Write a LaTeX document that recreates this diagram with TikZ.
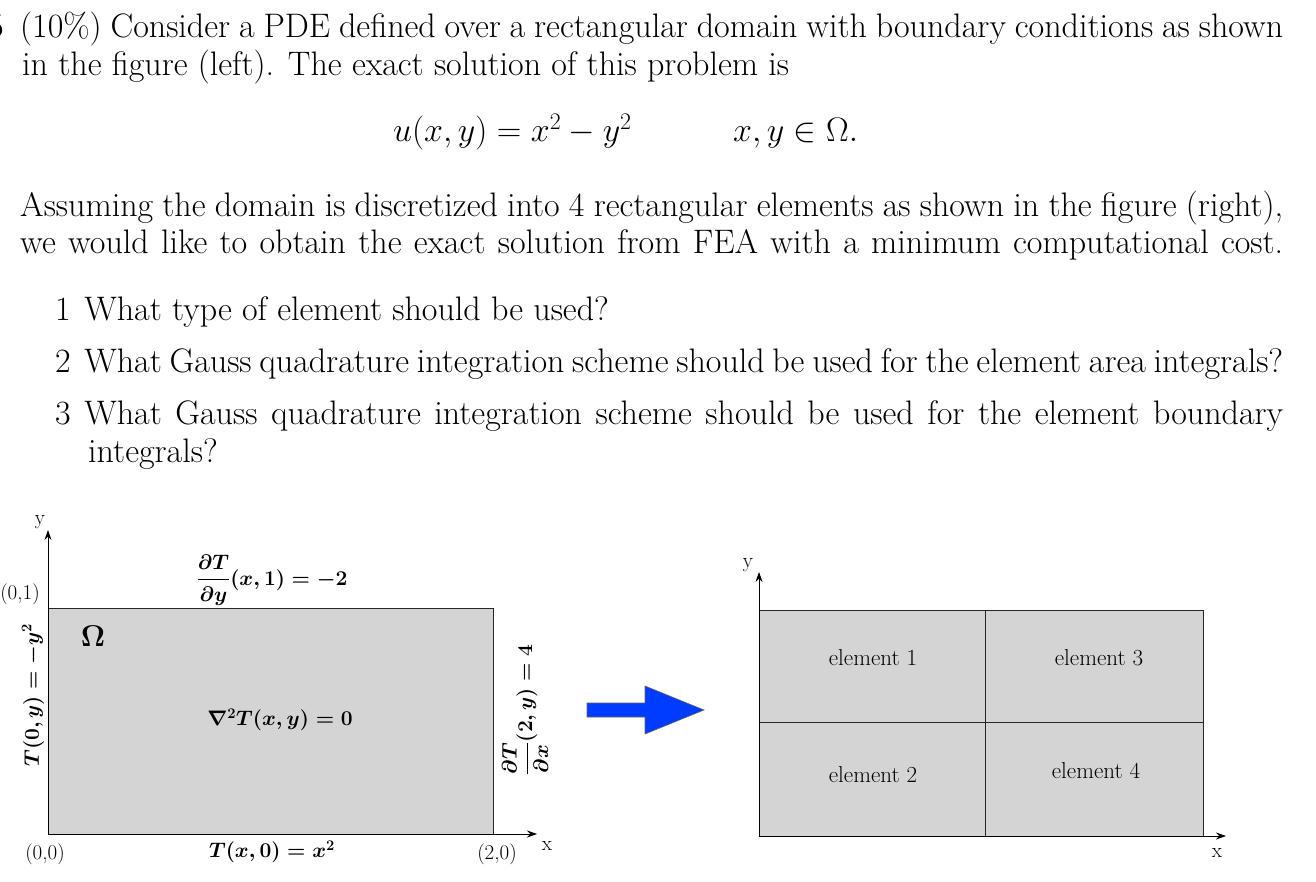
\RequirePackage{fix-cm}
\documentclass[tikz,border=0pt]{standalone}
\usepackage{amsmath,amssymb}
\usetikzlibrary{arrows.meta}
\begin{document}
\begin{tikzpicture}[x=1pt,y=-1pt,
  txt/.style={anchor=base west,inner sep=0pt,font=\fontsize{34}{40}\selectfont},
  sm/.style={inner sep=0pt,font=\fontsize{21}{24}\selectfont},
  bm/.style={inner sep=0pt,font=\fontsize{21}{25}\selectfont\boldmath},
  el/.style={inner sep=0pt,font=\fontsize{23}{26}\selectfont},
  ax/.style={-{Stealth[length=10pt,width=7pt]},line width=0.7pt},
  dom/.style={fill=black!17,draw=black!85,line width=0.8pt}]
\useasboundingbox (0,0) rectangle (1316,882);
\node[txt] (l0) at (-12,38) {5};
\node[txt] (l1) at (20,38) {\makebox[1263pt][s]{(10\%) Consider a PDE defined over a rectangular domain with boundary conditions as shown}};
\node[txt] (l2) at (22,76) {in the figure (left). The exact solution of this problem is};
\node[txt] (eq1) at (393,142) {$u(x,y)=x^2-y^2$};
\node[txt] (eq2) at (733,142) {$x,y\in\Omega.$};
\node[txt] (p1) at (20,217) {\makebox[1263pt][s]{Assuming the domain is discretized into 4 rectangular elements as shown in the figure (right),}};
\node[txt] (p2) at (20,254) {\makebox[1263pt][s]{we would like to obtain the exact solution from FEA with a minimum computational cost.}};
\node[txt] (q1) at (55,320) {1\hspace{0.4em}What type of element should be used?};
\node[txt] (q2) at (55,372) {\makebox[1228pt][s]{2\hspace{0.4em}What Gauss quadrature integration scheme should be used for the element area integrals?}};
\node[txt] (q3) at (55,424) {\makebox[1228pt][s]{3\hspace{0.4em}What Gauss quadrature integration scheme should be used for the element boundary}};
\node[txt] (q3b) at (88,462) {integrals?};
% left figure
\draw[dom] (48,608) rectangle (493,834);
\coordinate (o1) at (48,834);
\coordinate (ytip1) at (48,530);
\coordinate (xtip1) at (537,834);
\draw[ax] (o1) -- (ytip1);
\draw[ax] (o1) -- (xtip1);
\node[sm] (y1) at (40,522) {y};
\node[sm] (x1) at (547,846) {x};
\node[sm] (c01) at (20,594) {(0,1)};
\node[sm] (c00) at (45,854) {(0,0)};
\node[sm] (c20) at (497,854) {(2,0)};
\node[inner sep=0pt,font=\fontsize{30}{34}\selectfont\bfseries] (om) at (93,636) {$\boldsymbol{\Omega}$};
\node[bm] (lap) at (280,720) {$\nabla^2T(x,y)=0$};
\node[bm] (top) at (272,580) {$\dfrac{\partial T}{\partial y}(x,1)=-2$};
\node[bm] (bot) at (272,852) {$T(x,0)=x^2$};
\node[bm,rotate=90] (lft) at (33,695) {$T(0,y)=-y^2$};
\node[bm,rotate=90] (rgt) at (525,710) {$\dfrac{\partial T}{\partial x}(2,y)=4$};
% arrow
\draw[fill={rgb,255:red,0;green,60;blue,255},draw=black!60,line width=0.6pt]
  (587,703) -- (645,703) -- (645,686) -- (704,710) -- (645,734) -- (645,717) -- (587,717) -- cycle;
% right figure
\draw[dom] (759,610) rectangle (1203,836);
\draw[black!85,line width=0.8pt] (985,610) -- (985,836) (759,722) -- (1203,722);
\coordinate (o2) at (759,836);
\coordinate (ytip2) at (759,572);
\coordinate (xtip2) at (1226,836);
\draw[ax] (o2) -- (ytip2);
\draw[ax] (o2) -- (xtip2);
\node[sm] (y2) at (748,565) {y};
\node[sm] (x2) at (1217,853) {x};
\node[el] (e1) at (873,658) {element 1};
\node[el] (e3) at (1099,658) {element 3};
\node[el] (e2) at (873,775) {element 2};
\node[el] (e4) at (1096,771) {element 4};
\end{tikzpicture}
\end{document}
